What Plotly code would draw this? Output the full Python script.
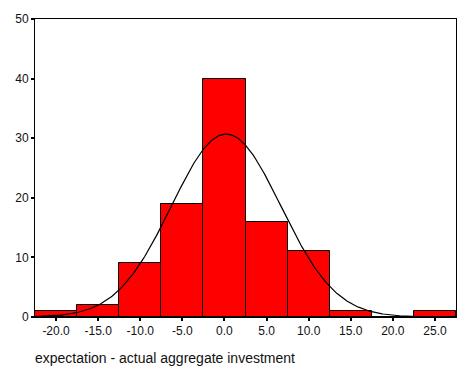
import numpy as np
import plotly.graph_objects as go

bin_centers = [-20, -15, -10, -5, 0, 5, 10, 15, 20, 25]
counts = [1, 2, 9, 19, 40, 16, 11, 1, 0, 1]
bin_width = 5
tick_vals = [-20, -15, -10, -5, 0, 5, 10, 15, 20, 25]
tick_text = ["-20.0", "-15.0", "-10.0", "-5.0", "0.0", "5.0", "10.0", "15.0", "20.0", "25.0"]
fit_mean = 0.2
fit_std = 6.5
n_total = 100

xs = np.linspace(-22.5, 27.5, 400)
ys = n_total * bin_width / (fit_std * np.sqrt(2 * np.pi)) * np.exp(-0.5 * ((xs - fit_mean) / fit_std) ** 2)

fig = go.Figure()
fig.add_trace(go.Bar(x=bin_centers, y=counts, width=bin_width,
                     marker=dict(color="#ff0000", line=dict(color="black", width=1))))
fig.add_trace(go.Scatter(x=xs, y=ys, mode="lines", line=dict(color="black", width=1.2)))

fig.update_layout(
    width=474, height=379,
    margin=dict(l=35, r=18, t=19, b=62),
    paper_bgcolor="white", plot_bgcolor="white",
    showlegend=False,
    font=dict(family="Liberation Sans, Arial, sans-serif", color="#111", size=12),
    bargap=0,
)
fig.update_xaxes(range=[-22.5, 27.5], tickvals=tick_vals, ticktext=tick_text,
                 showline=True, linecolor="black", linewidth=1, mirror=True,
                 ticks="outside", ticklen=3, tickwidth=2, tickcolor="black",
                 showgrid=False, zeroline=False)
fig.update_yaxes(range=[0, 50], tickvals=[0, 10, 20, 30, 40, 50],
                 showline=True, linecolor="black", linewidth=1, mirror=True,
                 ticks="outside", ticklen=3, tickwidth=2, tickcolor="black",
                 showgrid=False, zeroline=False)
fig.add_annotation(text="expectation - actual aggregate investment",
                   xref="paper", yref="paper", x=-0.005, y=-0.105, xanchor="left", yanchor="top",
                   showarrow=False, font=dict(size=14, color="#111"))
fig.write_html("out.html", config={"displayModeBar": False},
               post_script="document.body.style.margin='0';document.body.style.overflow='hidden';")
